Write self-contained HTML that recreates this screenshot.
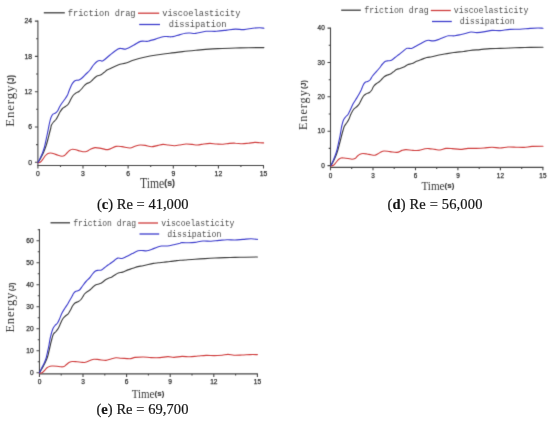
<!DOCTYPE html>
<html><head><meta charset="utf-8"><title>Figure</title>
<style>
html,body{margin:0;padding:0;background:#fff;}
body{width:550px;height:421px;overflow:hidden;}
svg{display:block;}
.tk{font-family:"Liberation Sans",sans-serif;fill:#333;stroke:#333;stroke-width:0.25;}
.sm{font-family:"Liberation Sans",sans-serif;font-weight:bold;fill:#3c3c3c;stroke:#3c3c3c;stroke-width:0.15;}
.mn{font-family:"Liberation Mono",monospace;fill:#505050;}
.lg{font-family:"Liberation Serif",serif;fill:#3a3a3a;}
.cap{font-family:"Liberation Serif",serif;font-size:14.5px;fill:#151515;stroke:#151515;stroke-width:0.2;}
.ax{stroke:#444;stroke-width:1.1;fill:none;}
.cv{fill:none;stroke-width:1.12;stroke-linejoin:round;stroke-linecap:round;}
</style></head><body>
<svg width="550" height="421" viewBox="0 0 550 421">
<defs><filter id="soft" x="0" y="0" width="550" height="421" filterUnits="userSpaceOnUse" color-interpolation-filters="sRGB"><feConvolveMatrix order="3" kernelMatrix="0.012 0.086 0.012 0.086 0.608 0.086 0.012 0.086 0.012" edgeMode="duplicate" preserveAlpha="true"/></filter></defs>
<g filter="url(#soft)">
<rect width="550" height="421" fill="#fff"/>
<g id="chart-c">
<path class="ax" stroke-width="1.3" d="M37.90,20.6V168.4"/>
<path class="ax" stroke-width="1.05" d="M37.40,165.45H264.0"/>
<path class="ax" d="M83.0,165.4v3M128.1,165.4v3M173.3,165.4v3M218.4,165.4v3M263.5,165.4v3M60.5,165.4v1.6M105.6,165.4v1.6M150.7,165.4v1.6M195.8,165.4v1.6M240.9,165.4v1.6M37.9,162.3h-3M37.9,127.0h-3M37.9,91.7h-3M37.9,56.4h-3M37.9,21.1h-3M37.9,144.6h-1.8M37.9,109.3h-1.8M37.9,74.0h-1.8M37.9,38.7h-1.8"/>
<text class="tk" font-size="6.80" x="37.9" y="175.5" text-anchor="middle">0</text>
<text class="tk" font-size="6.80" x="83.0" y="175.5" text-anchor="middle">3</text>
<text class="tk" font-size="6.80" x="128.1" y="175.5" text-anchor="middle">6</text>
<text class="tk" font-size="6.80" x="173.3" y="175.5" text-anchor="middle">9</text>
<text class="tk" font-size="6.80" x="218.4" y="175.5" text-anchor="middle">12</text>
<text class="tk" font-size="6.80" x="263.5" y="175.5" text-anchor="middle">15</text>
<text class="tk" font-size="6.80" x="32.1" y="164.5" text-anchor="end">0</text>
<text class="tk" font-size="6.80" x="32.1" y="129.2" text-anchor="end">6</text>
<text class="tk" font-size="6.80" x="32.1" y="93.9" text-anchor="end">12</text>
<text class="tk" font-size="6.80" x="32.1" y="58.6" text-anchor="end">18</text>
<text class="tk" font-size="6.80" x="32.1" y="23.3" text-anchor="end">24</text>
<path class="cv" stroke="#3c3c3c" d="M38.0,162.5C38.4,161.8 39.6,160.2 40.5,158.5C41.4,156.8 42.6,154.6 43.5,152.5C44.4,150.4 45.2,148.2 46.0,146.0C46.8,143.8 47.4,141.2 48.0,139.0C48.6,136.8 49.0,134.8 49.5,133.0C50.0,131.2 50.5,129.3 50.8,128.0C51.1,126.7 51.0,126.0 51.5,125.0C52.0,124.0 52.8,122.9 53.5,122.0C54.2,121.1 55.2,120.5 56.0,119.5C56.8,118.5 57.3,117.2 58.0,116.0C58.7,114.8 59.2,113.2 60.0,112.0C60.8,110.8 61.6,109.4 62.5,108.5C63.4,107.6 64.6,107.2 65.5,106.5C66.4,105.8 67.2,105.4 68.0,104.5C68.8,103.6 69.4,102.1 70.0,101.0C70.6,99.9 70.9,99.0 71.5,98.0C72.1,97.0 72.8,95.8 73.5,95.0C74.2,94.2 75.1,93.6 76.0,93.0C76.9,92.4 78.1,92.2 79.0,91.5C79.9,90.8 80.7,89.9 81.5,89.0C82.3,88.1 83.2,86.9 84.0,86.0C84.8,85.1 85.6,84.4 86.5,83.8C87.4,83.2 88.5,83.1 89.5,82.5C90.5,81.9 91.6,80.8 92.5,80.0C93.4,79.2 94.2,78.2 95.0,77.5C95.8,76.8 96.6,76.2 97.5,75.8C98.4,75.4 99.4,75.5 100.5,75.0C101.6,74.5 102.9,73.3 104.0,72.5C105.1,71.7 106.0,70.6 107.0,70.0C108.0,69.4 108.2,69.6 110.0,68.8C111.8,68.0 115.3,66.0 118.0,65.0C120.7,64.0 123.3,63.8 126.0,63.0C128.7,62.2 131.1,60.9 134.0,60.0C136.9,59.1 139.5,58.3 143.2,57.5C146.9,56.7 152.0,55.7 156.4,55.0C160.8,54.3 165.1,53.8 169.5,53.2C173.9,52.6 178.3,52.1 182.7,51.6C187.1,51.1 191.5,50.7 195.9,50.3C200.3,49.9 204.7,49.4 209.1,49.1C213.5,48.8 217.9,48.7 222.3,48.5C226.7,48.3 231.1,48.1 235.5,48.0C239.9,47.9 243.9,47.8 248.6,47.7C253.3,47.6 261.3,47.6 263.9,47.6"/>
<path class="cv" stroke="#cf3c3c" d="M38.0,162.8C38.4,162.7 39.7,162.6 40.5,162.0C41.3,161.4 42.2,160.1 43.0,159.0C43.8,157.9 44.7,156.4 45.5,155.5C46.3,154.6 47.2,153.9 48.0,153.5C48.8,153.1 49.5,152.9 50.5,153.0C51.5,153.1 52.8,153.4 54.0,153.8C55.2,154.2 56.7,154.8 58.0,155.2C59.3,155.6 60.9,156.1 62.0,156.2C63.1,156.2 63.7,156.0 64.5,155.5C65.3,155.0 66.2,153.8 67.0,153.0C67.8,152.2 68.6,151.1 69.5,150.5C70.4,149.9 71.4,149.4 72.5,149.3C73.6,149.2 74.8,149.5 76.0,149.8C77.2,150.1 78.7,150.7 80.0,151.0C81.3,151.3 82.8,151.8 84.0,151.8C85.2,151.8 86.0,151.6 87.0,151.2C88.0,150.8 88.7,150.1 90.0,149.5C91.3,148.9 93.0,147.8 95.0,147.6C97.0,147.4 99.8,148.3 102.0,148.6C104.2,148.9 105.7,150.0 108.0,149.6C110.3,149.2 113.7,146.9 116.0,146.4C118.3,145.9 119.7,146.3 122.0,146.6C124.3,146.9 127.8,148.1 130.0,148.0C132.2,147.9 133.3,146.7 135.0,146.2C136.7,145.7 138.5,145.1 140.2,145.0C141.9,144.9 143.4,145.1 145.3,145.4C147.2,145.7 149.5,146.7 151.6,146.7C153.7,146.7 156.1,145.8 158.0,145.4C159.9,145.0 161.3,144.5 163.0,144.4C164.7,144.3 166.3,144.8 168.2,145.0C170.1,145.2 172.4,145.8 174.5,145.7C176.6,145.6 179.1,145.0 181.0,144.7C182.9,144.4 184.1,144.1 186.0,144.0C187.9,143.9 190.4,144.2 192.3,144.4C194.2,144.6 195.5,145.1 197.4,145.0C199.3,144.9 201.7,144.3 203.8,144.0C205.9,143.7 207.9,143.4 210.0,143.4C212.1,143.4 214.3,143.9 216.5,144.0C218.7,144.1 220.9,144.3 223.0,144.2C225.1,144.1 227.1,143.6 229.2,143.4C231.3,143.2 233.5,143.1 235.6,143.2C237.7,143.2 239.9,143.7 242.0,143.7C244.1,143.7 246.2,143.4 248.3,143.2C250.4,143.0 252.8,142.5 254.7,142.4C256.6,142.3 258.3,142.6 259.8,142.7C261.3,142.8 263.0,142.9 263.6,142.9"/>
<path class="cv" stroke="#3c3ccc" d="M38.0,162.5C38.3,161.8 39.2,160.1 40.0,158.5C40.8,156.9 41.8,154.9 42.5,153.0C43.2,151.1 43.9,149.2 44.5,147.0C45.1,144.8 45.5,142.3 46.0,140.0C46.5,137.7 47.1,135.0 47.5,133.0C47.9,131.0 48.2,129.7 48.5,128.0C48.8,126.3 49.1,124.8 49.5,123.0C49.9,121.2 50.4,119.0 51.0,117.5C51.6,116.0 52.2,115.0 53.0,114.2C53.8,113.5 54.8,113.5 55.5,113.0C56.2,112.5 56.8,112.0 57.5,111.0C58.2,110.0 58.8,108.3 59.5,107.0C60.2,105.7 61.1,104.3 62.0,103.0C62.9,101.7 64.1,100.3 65.0,99.0C65.9,97.7 66.8,96.3 67.5,95.0C68.2,93.7 68.3,92.7 69.0,91.0C69.7,89.3 70.7,86.6 71.5,85.0C72.3,83.4 73.2,82.3 74.0,81.5C74.8,80.7 75.7,80.5 76.5,80.3C77.3,80.0 78.1,80.4 79.0,80.0C79.9,79.6 80.8,79.0 82.0,78.0C83.2,77.0 84.7,75.3 86.0,74.0C87.3,72.7 88.8,71.5 90.0,70.0C91.2,68.5 92.3,66.4 93.5,65.0C94.7,63.6 95.9,62.2 97.0,61.5C98.1,60.8 99.0,60.6 100.0,60.5C101.0,60.4 101.3,61.7 103.0,60.8C104.7,59.9 107.5,57.0 110.0,55.0C112.5,53.0 116.0,50.1 118.0,49.0C120.0,47.9 120.7,48.6 122.0,48.6C123.3,48.6 124.0,49.6 126.0,49.0C128.0,48.4 131.6,46.3 134.0,45.0C136.4,43.7 138.3,42.0 140.5,41.4C142.7,40.8 145.4,41.5 147.0,41.4C148.6,41.3 148.6,41.0 150.0,40.6C151.4,40.2 153.7,39.7 155.5,39.1C157.3,38.5 159.3,37.6 160.9,37.2C162.5,36.8 163.6,36.6 164.8,36.5C166.0,36.4 166.9,36.6 168.0,36.6C169.1,36.6 170.2,36.9 171.3,36.8C172.4,36.7 173.2,36.6 174.6,36.2C176.0,35.8 178.2,35.1 180.0,34.6C181.8,34.1 183.7,33.5 185.4,33.2C187.1,32.9 188.3,33.0 190.0,33.0C191.7,33.0 193.0,33.7 195.7,33.4C198.4,33.1 202.5,31.6 206.0,31.3C209.5,31.0 213.0,31.5 216.5,31.3C220.0,31.1 223.7,30.5 226.8,30.1C230.0,29.7 232.5,29.2 235.4,29.1C238.3,29.0 241.1,29.8 244.0,29.6C246.9,29.5 250.1,28.5 252.7,28.2C255.3,27.9 257.7,27.7 259.6,27.7C261.5,27.7 263.3,28.1 264.0,28.2"/>
<path d="M43.8,12.8H64.8" stroke="#3c3c3c" stroke-width="1.3" fill="none"/>
<path d="M138.0,13.2H159.2" stroke="#cf3c3c" stroke-width="1.3" fill="none"/>
<path d="M139.2,24.5H160.0" stroke="#3c3ccc" stroke-width="1.3" fill="none"/>
<text class="mn" font-size="9.00" x="67.7" y="15.6" textLength="67.9" lengthAdjust="spacingAndGlyphs">friction drag</text>
<text class="mn" font-size="9.00" x="162.2" y="15.6" textLength="78.2" lengthAdjust="spacingAndGlyphs">viscoelasticity</text>
<text class="mn" font-size="9.00" x="168.7" y="26.5" textLength="57.7" lengthAdjust="spacingAndGlyphs">dissipation</text>
<g transform="translate(14.4,126.5) rotate(-90)"><text class="lg" font-size="13.00" x="-0.3" y="0" textLength="41.4" lengthAdjust="spacing">Energy</text><text class="sm" font-size="8.20" x="42.4" y="-0.5" textLength="9.0" lengthAdjust="spacingAndGlyphs">(J)</text></g>
<text class="lg" font-size="13.80" x="140.0" y="187.7" textLength="24.2" lengthAdjust="spacingAndGlyphs">Time</text><text class="sm" font-size="8.30" x="164.3" y="186.2" textLength="10.6" lengthAdjust="spacingAndGlyphs">(s)</text>
</g>
<g id="chart-d">
<path class="ax" stroke-width="1.05" d="M330.50,27.6V170.3"/>
<path class="ax" stroke-width="1.1" d="M330.00,167.35H543.4"/>
<path class="ax" d="M373.0,167.3v3M415.5,167.3v3M457.9,167.3v3M500.4,167.3v3M542.9,167.3v3M351.7,167.3v1.6M394.2,167.3v1.6M436.7,167.3v1.6M479.2,167.3v1.6M521.7,167.3v1.6M330.5,165.6h-3M330.5,131.2h-3M330.5,96.8h-3M330.5,62.5h-3M330.5,28.1h-3M330.5,148.4h-1.8M330.5,114.0h-1.8M330.5,79.7h-1.8M330.5,45.3h-1.8"/>
<text class="tk" font-size="6.39" x="330.5" y="177.5" text-anchor="middle">0</text>
<text class="tk" font-size="6.39" x="373.0" y="177.5" text-anchor="middle">3</text>
<text class="tk" font-size="6.39" x="415.5" y="177.5" text-anchor="middle">6</text>
<text class="tk" font-size="6.39" x="457.9" y="177.5" text-anchor="middle">9</text>
<text class="tk" font-size="6.39" x="500.4" y="177.5" text-anchor="middle">12</text>
<text class="tk" font-size="6.39" x="542.9" y="177.5" text-anchor="middle">15</text>
<text class="tk" font-size="6.39" x="324.7" y="167.8" text-anchor="end">0</text>
<text class="tk" font-size="6.39" x="324.7" y="133.4" text-anchor="end">10</text>
<text class="tk" font-size="6.39" x="324.7" y="99.0" text-anchor="end">20</text>
<text class="tk" font-size="6.39" x="324.7" y="64.7" text-anchor="end">30</text>
<text class="tk" font-size="6.39" x="324.7" y="30.3" text-anchor="end">40</text>
<path class="cv" stroke="#3c3c3c" d="M331.0,165.5C331.4,164.8 332.7,162.7 333.5,161.0C334.3,159.3 335.2,157.4 336.0,155.5C336.8,153.6 337.3,151.8 338.0,149.5C338.7,147.2 339.4,144.2 340.0,142.0C340.6,139.8 341.0,137.9 341.5,136.0C342.0,134.1 342.5,132.2 343.0,130.5C343.5,128.8 343.8,127.3 344.5,126.0C345.2,124.7 346.2,123.7 347.0,122.5C347.8,121.3 348.3,120.4 349.0,119.0C349.7,117.6 350.2,115.6 351.0,114.0C351.8,112.4 352.5,110.8 353.5,109.5C354.5,108.2 356.0,107.5 357.0,106.5C358.0,105.5 358.8,104.7 359.5,103.5C360.2,102.3 360.8,100.8 361.5,99.5C362.2,98.2 362.8,96.9 363.5,96.0C364.2,95.1 365.0,94.6 366.0,94.0C367.0,93.4 368.5,93.2 369.5,92.5C370.5,91.8 371.1,91.0 371.8,90.0C372.5,89.0 372.7,87.6 373.5,86.5C374.3,85.4 375.5,84.3 376.5,83.5C377.5,82.7 378.6,82.2 379.5,81.5C380.4,80.8 381.2,79.8 382.0,79.0C382.8,78.2 383.6,77.2 384.5,76.5C385.4,75.8 386.5,75.4 387.5,75.0C388.5,74.6 389.5,74.5 390.5,74.0C391.5,73.5 392.5,72.5 393.5,71.8C394.5,71.0 395.4,70.0 396.5,69.5C397.6,69.0 398.8,68.9 400.0,68.5C401.2,68.1 402.5,67.6 403.8,67.0C405.1,66.4 406.2,65.3 407.6,64.7C409.0,64.1 410.6,64.2 412.1,63.6C413.6,63.0 414.9,62.0 416.5,61.3C418.1,60.6 419.9,60.0 421.6,59.4C423.3,58.8 425.0,57.9 426.7,57.5C428.4,57.1 430.1,57.1 431.8,56.8C433.5,56.5 435.2,55.9 436.9,55.5C438.6,55.1 440.3,54.8 442.0,54.5C443.7,54.2 445.4,53.9 447.1,53.6C448.8,53.3 450.5,53.0 452.2,52.7C453.9,52.5 455.4,52.3 457.3,52.1C459.2,51.9 461.5,51.8 463.6,51.5C465.7,51.2 467.3,50.8 470.0,50.5C472.7,50.2 476.7,49.9 480.0,49.6C483.3,49.3 486.7,48.8 490.0,48.6C493.3,48.4 496.7,48.5 500.0,48.4C503.3,48.3 506.7,48.1 510.0,48.0C513.3,47.9 516.7,47.7 520.0,47.6C523.3,47.5 526.2,47.5 530.0,47.4C533.8,47.3 540.8,47.2 543.0,47.2"/>
<path class="cv" stroke="#cf3c3c" d="M331.0,166.0C331.4,165.9 332.7,165.8 333.5,165.2C334.3,164.6 335.2,163.4 336.0,162.5C336.8,161.6 337.7,160.2 338.5,159.5C339.3,158.8 340.1,158.2 341.0,158.0C341.9,157.8 342.8,157.9 344.0,158.0C345.2,158.1 346.7,158.3 348.0,158.5C349.3,158.7 350.8,159.2 352.0,159.2C353.2,159.2 354.1,159.0 355.0,158.5C355.9,158.0 356.7,156.7 357.5,156.0C358.3,155.3 359.1,154.6 360.0,154.2C360.9,153.8 361.8,153.5 363.0,153.5C364.2,153.5 365.7,153.8 367.0,154.0C368.3,154.2 369.7,154.6 371.0,154.8C372.3,155.0 373.8,155.4 375.0,155.2C376.2,155.0 377.0,154.3 378.0,153.8C379.0,153.3 380.0,152.5 381.0,152.0C382.0,151.5 382.5,151.1 384.0,151.0C385.5,150.9 387.8,151.4 390.0,151.6C392.2,151.8 395.0,152.6 397.0,152.4C399.0,152.2 400.5,150.9 402.0,150.4C403.5,149.9 404.2,149.6 406.0,149.6C407.8,149.6 410.8,150.3 413.0,150.4C415.2,150.5 417.0,150.7 419.0,150.4C421.0,150.1 423.3,149.1 425.0,148.8C426.7,148.5 427.3,148.5 429.0,148.6C430.7,148.7 433.2,149.2 435.0,149.4C436.8,149.6 438.2,150.2 440.0,150.0C441.8,149.8 444.0,148.6 446.0,148.4C448.0,148.2 449.7,148.4 452.0,148.6C454.3,148.8 457.3,149.4 460.0,149.4C462.7,149.4 465.3,148.6 468.0,148.4C470.7,148.2 473.3,148.5 476.0,148.4C478.7,148.3 481.3,148.2 484.0,148.0C486.7,147.8 489.3,147.2 492.0,147.2C494.7,147.2 497.3,148.0 500.0,148.0C502.7,148.0 505.3,147.1 508.0,147.0C510.7,146.9 513.3,147.1 516.0,147.2C518.7,147.3 521.3,147.5 524.0,147.4C526.7,147.3 528.8,146.6 532.0,146.4C535.2,146.2 541.2,146.2 543.0,146.2"/>
<path class="cv" stroke="#3c3ccc" d="M331.0,165.5C331.3,164.8 332.3,162.6 333.0,161.0C333.7,159.4 334.3,157.8 335.0,156.0C335.7,154.2 336.4,152.2 337.0,150.0C337.6,147.8 338.0,145.3 338.5,143.0C339.0,140.7 339.6,138.3 340.0,136.0C340.4,133.7 340.9,130.8 341.2,129.0C341.5,127.2 341.6,126.5 342.0,125.0C342.4,123.5 342.9,121.3 343.5,120.0C344.1,118.7 344.8,117.9 345.5,117.0C346.2,116.1 347.2,115.6 348.0,114.5C348.8,113.4 349.2,112.1 350.0,110.5C350.8,108.9 351.6,106.8 352.5,105.0C353.4,103.2 354.5,101.7 355.5,100.0C356.5,98.3 357.6,96.7 358.5,95.0C359.4,93.3 360.4,91.6 361.2,90.0C361.9,88.4 362.4,86.8 363.0,85.5C363.6,84.2 364.2,83.2 365.0,82.5C365.8,81.8 366.7,81.9 367.5,81.5C368.3,81.1 369.2,80.9 370.0,80.0C370.8,79.1 371.5,77.3 372.5,76.0C373.5,74.7 374.8,73.3 376.0,72.0C377.2,70.7 378.4,69.3 379.5,68.0C380.6,66.7 381.5,65.1 382.5,64.0C383.5,62.9 384.5,61.7 385.5,61.2C386.5,60.7 387.5,61.0 388.5,60.8C389.5,60.6 390.4,60.8 391.5,60.2C392.6,59.7 393.8,58.5 395.0,57.5C396.2,56.5 397.6,55.6 399.0,54.5C400.4,53.4 401.9,52.1 403.2,51.1C404.5,50.1 405.6,48.7 407.0,48.3C408.4,47.9 410.1,48.8 411.5,48.5C412.9,48.2 413.8,47.4 415.3,46.6C416.8,45.8 418.7,44.8 420.4,43.8C422.1,42.8 424.1,41.5 425.5,40.9C426.9,40.3 427.3,40.3 428.6,40.3C429.9,40.3 431.5,41.0 433.1,40.9C434.7,40.8 436.5,40.2 438.2,39.6C439.9,39.0 441.6,38.1 443.3,37.5C445.0,36.9 446.5,36.1 448.4,35.8C450.3,35.5 452.6,36.0 454.7,35.8C456.8,35.6 459.2,34.9 461.1,34.5C463.0,34.1 464.6,33.7 466.2,33.3C467.8,32.9 469.2,32.1 471.0,32.0C472.8,31.9 474.7,32.7 477.0,32.6C479.3,32.5 482.5,32.0 485.0,31.6C487.5,31.2 489.5,30.6 492.0,30.4C494.5,30.2 497.0,30.8 500.0,30.6C503.0,30.4 506.7,29.6 510.0,29.4C513.3,29.2 516.7,29.4 520.0,29.2C523.3,29.0 527.0,28.6 530.0,28.4C533.0,28.2 535.8,28.0 538.0,28.0C540.2,28.0 542.2,28.2 543.0,28.2"/>
<path d="M341.2,10.2H360.8" stroke="#3c3c3c" stroke-width="1.3" fill="none"/>
<path d="M430.8,10.5H450.8" stroke="#cf3c3c" stroke-width="1.3" fill="none"/>
<path d="M432.0,21.5H451.8" stroke="#3c3ccc" stroke-width="1.3" fill="none"/>
<text class="mn" font-size="8.46" x="364.2" y="13.1" textLength="64.4" lengthAdjust="spacingAndGlyphs">friction drag</text>
<text class="mn" font-size="8.46" x="453.7" y="13.1" textLength="74.7" lengthAdjust="spacingAndGlyphs">viscoelasticity</text>
<text class="mn" font-size="8.46" x="459.7" y="24.0" textLength="55.2" lengthAdjust="spacingAndGlyphs">dissipation</text>
<g transform="translate(306.6,129.8) rotate(-90)"><text class="lg" font-size="12.22" x="-0.3" y="0" textLength="39.9" lengthAdjust="spacing">Energy</text><text class="sm" font-size="7.71" x="41.0" y="-0.5" textLength="8.6" lengthAdjust="spacingAndGlyphs">(J)</text></g>
<text class="lg" font-size="12.97" x="421.4" y="189.5" textLength="23.1" lengthAdjust="spacingAndGlyphs">Time</text><text class="sm" font-size="7.80" x="444.6" y="188.0" textLength="9.7" lengthAdjust="spacingAndGlyphs">(s)</text>
</g>
<g id="chart-e">
<path class="ax" stroke-width="1.05" d="M39.45,229.1V376.9"/>
<path class="ax" stroke-width="1.3" d="M38.95,373.90H257.9"/>
<path class="ax" d="M83.0,373.9v3M126.6,373.9v3M170.2,373.9v3M213.8,373.9v3M257.4,373.9v3M61.2,373.9v1.6M104.8,373.9v1.6M148.4,373.9v1.6M192.0,373.9v1.6M235.6,373.9v1.6M39.5,372.7h-3M39.5,350.7h-3M39.5,328.7h-3M39.5,306.7h-3M39.5,284.7h-3M39.5,262.7h-3M39.5,240.7h-3M39.5,361.7h-1.8M39.5,339.7h-1.8M39.5,317.7h-1.8M39.5,295.7h-1.8M39.5,273.7h-1.8M39.5,251.7h-1.8M39.5,229.7h-1.8"/>
<text class="tk" font-size="6.58" x="39.5" y="383.9" text-anchor="middle">0</text>
<text class="tk" font-size="6.58" x="83.0" y="383.9" text-anchor="middle">3</text>
<text class="tk" font-size="6.58" x="126.6" y="383.9" text-anchor="middle">6</text>
<text class="tk" font-size="6.58" x="170.2" y="383.9" text-anchor="middle">9</text>
<text class="tk" font-size="6.58" x="213.8" y="383.9" text-anchor="middle">12</text>
<text class="tk" font-size="6.58" x="257.4" y="383.9" text-anchor="middle">15</text>
<text class="tk" font-size="6.58" x="33.7" y="374.9" text-anchor="end">0</text>
<text class="tk" font-size="6.58" x="33.7" y="352.9" text-anchor="end">10</text>
<text class="tk" font-size="6.58" x="33.7" y="330.9" text-anchor="end">20</text>
<text class="tk" font-size="6.58" x="33.7" y="308.9" text-anchor="end">30</text>
<text class="tk" font-size="6.58" x="33.7" y="286.9" text-anchor="end">40</text>
<text class="tk" font-size="6.58" x="33.7" y="264.9" text-anchor="end">50</text>
<text class="tk" font-size="6.58" x="33.7" y="242.9" text-anchor="end">60</text>
<path class="cv" stroke="#3c3c3c" d="M39.5,372.8C39.9,372.1 41.1,370.1 42.0,368.5C42.9,366.9 44.1,364.9 45.0,363.0C45.9,361.1 46.8,359.0 47.5,357.0C48.2,355.0 48.5,353.1 49.0,351.0C49.5,348.9 50.0,346.6 50.5,344.5C51.0,342.4 51.5,340.2 52.0,338.5C52.5,336.8 52.8,335.2 53.5,334.0C54.2,332.8 55.2,332.5 56.0,331.5C56.8,330.5 57.8,329.3 58.5,328.0C59.2,326.7 59.8,325.1 60.5,323.5C61.2,321.9 62.1,319.8 63.0,318.5C63.9,317.2 65.1,316.3 66.0,315.5C66.9,314.7 67.8,314.4 68.5,313.5C69.2,312.6 69.8,311.2 70.5,310.0C71.2,308.8 71.8,307.2 72.5,306.0C73.2,304.8 74.0,303.8 75.0,303.0C76.0,302.2 77.5,302.1 78.5,301.5C79.5,300.9 80.3,300.3 81.0,299.5C81.7,298.7 82.2,297.7 82.8,296.8C83.4,295.9 83.7,294.9 84.5,294.0C85.3,293.1 86.5,292.2 87.5,291.5C88.5,290.8 89.6,290.2 90.5,289.5C91.4,288.8 92.1,287.8 93.0,287.0C93.9,286.2 94.9,285.3 96.0,284.8C97.1,284.3 98.4,284.2 99.5,283.8C100.6,283.4 101.5,282.9 102.5,282.2C103.5,281.5 104.5,280.5 105.5,279.8C106.5,279.1 107.5,278.6 108.5,278.2C109.5,277.8 110.5,277.7 111.5,277.2C112.5,276.7 113.4,275.9 114.5,275.2C115.6,274.5 116.9,273.5 118.3,273.0C119.7,272.5 121.1,272.6 122.7,272.1C124.3,271.6 126.1,270.5 127.8,269.9C129.5,269.3 131.2,268.9 132.9,268.3C134.6,267.8 136.3,267.0 138.0,266.6C139.7,266.2 141.4,266.1 143.1,265.7C144.8,265.3 146.5,264.9 148.2,264.5C149.9,264.1 151.6,263.7 153.3,263.4C155.0,263.1 156.7,263.0 158.4,262.8C160.1,262.6 161.6,262.5 163.5,262.3C165.4,262.1 167.9,261.7 169.8,261.5C171.7,261.3 173.2,261.1 174.9,260.9C176.6,260.7 178.3,260.4 180.0,260.3C181.7,260.2 182.5,260.2 185.0,260.0C187.5,259.8 191.7,259.4 195.0,259.2C198.3,259.0 201.7,258.8 205.0,258.6C208.3,258.4 211.7,258.2 215.0,258.0C218.3,257.8 221.7,257.7 225.0,257.6C228.3,257.5 231.7,257.5 235.0,257.4C238.3,257.3 241.3,257.3 245.0,257.2C248.7,257.1 255.3,257.0 257.4,257.0"/>
<path class="cv" stroke="#cf3c3c" d="M39.5,373.2C39.9,373.1 41.2,373.2 42.0,372.8C42.8,372.4 43.7,371.3 44.5,370.5C45.3,369.7 46.1,368.5 47.0,367.8C47.9,367.1 49.0,366.5 50.0,366.2C51.0,365.9 51.8,366.0 53.0,366.0C54.2,366.0 55.7,366.1 57.0,366.2C58.3,366.3 59.8,366.8 61.0,366.8C62.2,366.9 63.1,366.9 64.0,366.5C64.9,366.1 65.6,365.2 66.5,364.5C67.4,363.8 68.5,362.7 69.5,362.2C70.5,361.7 71.2,361.6 72.5,361.5C73.8,361.4 75.6,361.7 77.0,361.8C78.4,361.9 79.8,362.1 81.0,362.2C82.2,362.3 83.5,362.6 84.5,362.5C85.5,362.4 86.1,362.1 87.0,361.8C87.9,361.5 88.8,360.9 90.0,360.5C91.2,360.1 92.5,359.3 94.0,359.2C95.5,359.1 97.0,359.4 99.0,359.6C101.0,359.8 104.0,360.5 106.0,360.4C108.0,360.3 109.3,359.4 111.0,359.0C112.7,358.6 114.3,357.9 116.0,357.8C117.7,357.7 119.2,358.1 121.0,358.2C122.8,358.3 125.3,358.5 127.0,358.6C128.7,358.7 129.7,358.8 131.0,358.6C132.3,358.4 133.0,357.7 135.0,357.4C137.0,357.1 140.3,357.0 143.0,357.0C145.7,357.0 148.2,357.5 151.0,357.6C153.8,357.7 157.2,357.8 160.0,357.6C162.8,357.4 165.7,356.6 168.0,356.6C170.3,356.6 171.7,357.4 174.0,357.4C176.3,357.4 179.3,356.5 182.0,356.4C184.7,356.3 187.3,356.9 190.0,356.8C192.7,356.7 195.3,356.2 198.0,356.0C200.7,355.8 203.3,355.5 206.0,355.4C208.7,355.3 211.3,355.6 214.0,355.6C216.7,355.6 219.7,355.4 222.0,355.2C224.3,355.0 226.0,354.4 228.0,354.4C230.0,354.4 231.7,355.1 234.0,355.2C236.3,355.3 239.3,355.1 242.0,355.0C244.7,354.9 247.4,354.7 250.0,354.6C252.6,354.5 256.2,354.6 257.4,354.6"/>
<path class="cv" stroke="#3c3ccc" d="M39.5,372.8C39.8,372.1 40.8,370.1 41.5,368.5C42.2,366.9 43.2,365.2 44.0,363.5C44.8,361.8 45.4,360.4 46.0,358.5C46.6,356.6 47.0,354.2 47.5,352.0C48.0,349.8 48.6,347.2 49.0,345.0C49.4,342.8 49.7,340.5 50.0,339.0C50.3,337.5 50.5,337.0 50.7,336.0C51.0,335.0 51.1,334.2 51.5,333.0C51.9,331.8 52.4,329.8 53.0,328.5C53.6,327.2 54.2,326.4 55.0,325.5C55.8,324.6 56.8,324.1 57.5,323.0C58.2,321.9 58.8,320.7 59.5,319.0C60.2,317.3 61.1,314.8 62.0,313.0C62.9,311.2 64.0,309.6 65.0,308.0C66.0,306.4 67.1,305.0 68.0,303.5C68.9,302.0 69.8,300.2 70.5,299.0C71.2,297.8 71.7,296.9 72.2,296.0C72.7,295.1 73.0,294.2 73.5,293.5C74.0,292.8 74.8,291.9 75.5,291.5C76.2,291.1 77.2,291.1 78.0,290.8C78.8,290.5 79.2,290.3 80.0,289.5C80.8,288.7 81.5,287.3 82.5,286.0C83.5,284.7 84.8,282.8 86.0,281.5C87.2,280.2 88.4,279.2 89.5,278.0C90.6,276.8 91.5,275.2 92.5,274.0C93.5,272.8 94.5,271.6 95.5,271.0C96.5,270.4 97.5,270.5 98.5,270.3C99.5,270.1 100.5,270.4 101.5,270.0C102.5,269.6 103.4,268.6 104.5,267.8C105.6,267.0 106.9,265.8 108.0,265.0C109.1,264.2 110.0,263.7 111.0,263.0C112.0,262.3 112.7,261.8 113.8,261.0C114.9,260.2 116.2,258.5 117.6,258.1C119.0,257.7 120.6,258.8 122.1,258.5C123.6,258.2 124.8,257.4 126.5,256.6C128.2,255.8 130.4,254.6 132.3,253.6C134.2,252.6 136.4,251.3 138.0,250.8C139.6,250.3 140.3,250.5 141.8,250.5C143.3,250.5 145.2,251.0 146.9,250.8C148.6,250.6 150.3,249.8 152.0,249.2C153.7,248.6 155.5,247.8 157.1,247.3C158.7,246.8 159.8,246.2 161.5,246.0C163.2,245.8 165.3,246.2 167.3,246.0C169.3,245.8 171.5,245.2 173.6,244.7C175.7,244.2 178.6,243.5 180.0,243.2C181.4,242.8 180.5,242.7 182.0,242.6C183.5,242.5 186.8,242.8 189.0,242.8C191.2,242.8 192.7,242.7 195.0,242.4C197.3,242.1 200.3,241.2 203.0,241.0C205.7,240.8 208.3,241.3 211.0,241.2C213.7,241.1 216.3,240.6 219.0,240.4C221.7,240.2 224.3,239.9 227.0,239.8C229.7,239.7 232.3,240.1 235.0,240.0C237.7,239.9 240.3,239.6 243.0,239.4C245.7,239.2 248.6,238.8 251.0,238.8C253.4,238.8 256.3,239.3 257.4,239.4"/>
<path d="M50.5,222.8H70.0" stroke="#3c3c3c" stroke-width="1.3" fill="none"/>
<path d="M138.2,223.0H158.0" stroke="#cf3c3c" stroke-width="1.3" fill="none"/>
<path d="M139.5,234.0H159.2" stroke="#3c3ccc" stroke-width="1.3" fill="none"/>
<text class="mn" font-size="8.71" x="73.2" y="225.6" textLength="63.0" lengthAdjust="spacingAndGlyphs">friction drag</text>
<text class="mn" font-size="8.71" x="161.2" y="225.6" textLength="73.2" lengthAdjust="spacingAndGlyphs">viscoelasticity</text>
<text class="mn" font-size="8.71" x="167.2" y="236.5" textLength="54.2" lengthAdjust="spacingAndGlyphs">dissipation</text>
<g transform="translate(14.4,332.3) rotate(-90)"><text class="lg" font-size="12.58" x="-0.3" y="0" textLength="40.0" lengthAdjust="spacing">Energy</text><text class="sm" font-size="7.94" x="41.3" y="-0.5" textLength="8.2" lengthAdjust="spacingAndGlyphs">(J)</text></g>
<text class="lg" font-size="13.36" x="131.7" y="397.7" textLength="22.8" lengthAdjust="spacingAndGlyphs">Time</text><text class="sm" font-size="8.03" x="154.6" y="396.2" textLength="9.7" lengthAdjust="spacingAndGlyphs">(s)</text>
</g>
</g>
<text class="cap" x="97.0" y="209.2" textLength="91.4" lengthAdjust="spacing">(<tspan font-weight="bold">c</tspan>) Re = 41,000</text>
<text class="cap" x="387.5" y="209.2" textLength="94.9" lengthAdjust="spacing">(<tspan font-weight="bold">d</tspan>) Re = 56,000</text>
<text class="cap" x="96.4" y="414.3" textLength="92.0" lengthAdjust="spacing">(<tspan font-weight="bold">e</tspan>) Re = 69,700</text>
</svg>
</body></html>
